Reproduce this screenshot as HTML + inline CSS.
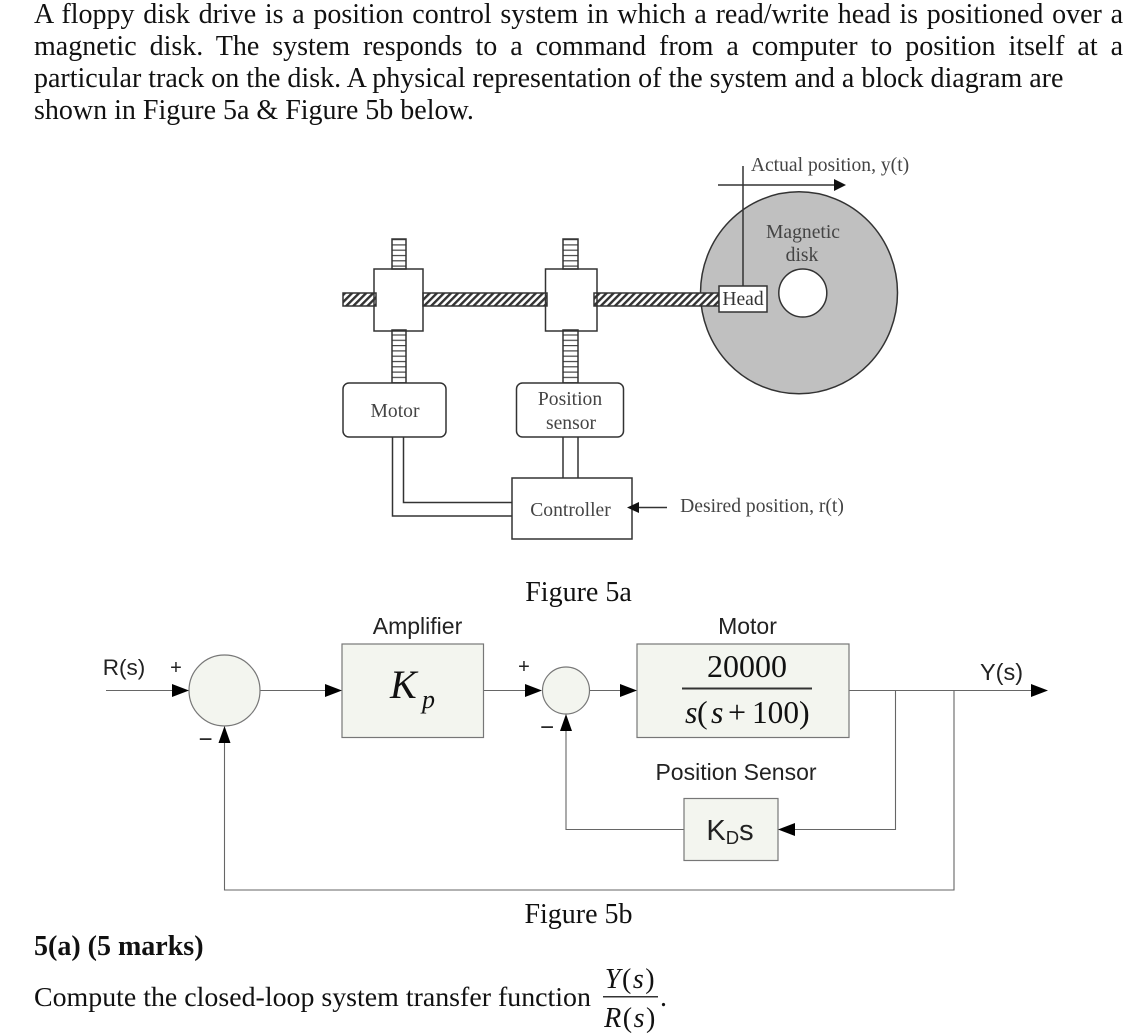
<!DOCTYPE html>
<html><head><meta charset="utf-8"><title>Floppy disk drive</title>
<style>
html,body{margin:0;padding:0;background:#fff;width:1142px;height:1036px;overflow:hidden}
svg{position:absolute;left:0;top:0;filter:blur(.35px)}
.l{position:absolute;left:34px;width:1089px;font:28px/32px "Liberation Serif",serif;color:#111;white-space:nowrap;filter:blur(.3px)}
.j{white-space:normal;text-align:justify;text-align-last:justify}
</style></head><body>
<div class="l j" style="top:-1px">A floppy disk drive is a position control system in which a read/write head is positioned over a</div>
<div class="l j" style="top:31px">magnetic disk. The system responds to a command from a computer to position itself at a</div>
<div class="l" style="top:63px">particular track on the disk. A physical representation of the system and a block diagram are</div>
<div class="l" style="top:95px">shown in Figure 5a &amp; Figure 5b below.</div>
<svg width="1142" height="1036" viewBox="0 0 1142 1036" xmlns="http://www.w3.org/2000/svg">
<defs>
<pattern id="h" width="5" height="5" patternUnits="userSpaceOnUse" patternTransform="rotate(45)"><rect width="5" height="5" fill="#fff"/><rect width="2.4" height="5" fill="#333"/></pattern>
<pattern id="t" width="14" height="5.300" patternUnits="userSpaceOnUse" y="239"><rect width="14" height="5.300" fill="#fff"/><rect width="14" height="1.200" fill="#444"/></pattern>
</defs>
<!-- Figure 5a -->
<g stroke="#333" stroke-width="1.500">
<ellipse cx="799" cy="292.800" rx="98.500" ry="101" fill="#c0c0c0"/>
<circle cx="802.800" cy="293" r="24" fill="#fff"/>
<rect x="343" y="293" width="33" height="13" fill="url(#h)"/>
<rect x="423" y="293" width="124" height="13" fill="url(#h)"/>
<rect x="594" y="293" width="125" height="13" fill="url(#h)"/>
<rect x="392" y="239" width="14" height="30" fill="url(#t)"/>
<rect x="563" y="239" width="15" height="30" fill="url(#t)"/>
<rect x="392" y="330" width="14" height="54" fill="url(#t)"/>
<rect x="563" y="330" width="15" height="54" fill="url(#t)"/>
<rect x="374" y="269" width="49" height="62" fill="none"/>
<rect x="545.500" y="269" width="51.500" height="62" fill="none"/>
<rect x="343" y="383" width="103" height="54" rx="6" fill="#fff"/>
<rect x="516.500" y="383" width="107" height="54" rx="6" fill="#fff"/>
<path d="M392.500 437V516H512M403.500 437V502.500H512M563 437V478M578 437V478" fill="none"/>
<rect x="512" y="478" width="120" height="61" fill="#fff"/>
<rect x="719" y="286" width="48" height="26" fill="#fff"/>
<path d="M743 286V166M718 185H835M636 507.500H667" fill="none"/>
</g>
<path d="M834 179L846 185L834 191Z" fill="#111"/>
<path d="M627 507.500L639 502V513Z" fill="#111"/>
<g font-family="'Liberation Serif',serif" font-size="19.600" fill="#444" text-anchor="middle">
<text x="830" y="171">Actual position, y(t)</text>
<text x="803" y="238">Magnetic</text>
<text x="802" y="261">disk</text>
<text x="743" y="305" fill="#333">Head</text>
<text x="395" y="417">Motor</text>
<text x="570" y="405">Position</text>
<text x="571" y="429">sensor</text>
<text x="570.500" y="516">Controller</text>
<text x="762" y="512">Desired position, r(t)</text>
</g>
<!-- Figure 5b -->
<g stroke="#666" stroke-width="1.100" fill="none">
<path d="M106 690.500H180M260 690.500H330M484 690.500H530M590 690.500H625M849 690.500H1035"/>
<path d="M895.500 690.500V829.500H790M954 690.500V890H224.500V735M684 829.500H566V724"/>
</g>
<g stroke="#777" stroke-width="1.200" fill="#f3f5ef">
<circle cx="224.500" cy="690.500" r="35.500"/>
<circle cx="566" cy="690.500" r="23.500"/>
<rect x="342" y="644" width="141.500" height="93.500"/>
<rect x="637" y="644" width="212" height="93.500"/>
<rect x="684" y="798.500" width="94" height="62"/>
</g>
<g fill="#000">
<path d="M172 684L189 690.500L172 697Z"/>
<path d="M325 684L342 690.500L325 697Z"/>
<path d="M525 684L542 690.500L525 697Z"/>
<path d="M620 684L637 690.500L620 697Z"/>
<path d="M1031 684L1048 690.500L1031 697Z"/>
<path d="M778 829.500L795 823V836Z"/>
<path d="M224.500 726L218.500 743H230.500Z"/>
<path d="M566 714L560 731H572Z"/>
</g>
<g font-family="'Liberation Sans',sans-serif" font-size="23" fill="#222" text-anchor="middle">
<text x="417.500" y="634">Amplifier</text>
<text x="747.500" y="634">Motor</text>
<text x="736" y="780">Position Sensor</text>
<text x="124" y="675" font-size="22.500">R(s)</text>
<text x="1001.500" y="680" font-size="23.500">Y(s)</text>
<text x="176" y="674" font-size="20">+</text>
<text x="524" y="673" font-size="20">+</text>
<text x="205.500" y="747" font-size="24">−</text>
<text x="547" y="735" font-size="24">−</text>
<text x="730" y="840" font-size="29">K<tspan font-size="18.500" dy="4">D</tspan><tspan dy="-4">s</tspan></text>
</g>
<g font-family="'Liberation Serif',serif" fill="#111">
<text x="390" y="698" font-size="40" font-style="italic">K</text>
<text x="422" y="708" font-size="26" font-style="italic">p</text>
<text x="747" y="677" font-size="32" text-anchor="middle">20000</text>
<text x="685" y="723" font-size="32" font-style="italic">s</text>
<text x="697" y="723" font-size="32">(</text>
<text x="711" y="723" font-size="32" font-style="italic">s</text>
<text x="728" y="723" font-size="32">+</text>
<text x="752" y="723" font-size="32" textLength="47" lengthAdjust="spacingAndGlyphs">100</text>
<text x="799" y="723" font-size="32">)</text>
<text x="578.500" y="601" font-size="28" text-anchor="middle">Figure 5a</text>
<text x="578.500" y="923" font-size="28" text-anchor="middle">Figure 5b</text>
<text x="34" y="955" font-size="28" font-weight="bold">5(a) (5 marks)</text>
<text x="34" y="1006" font-size="27.900">Compute the closed-loop system transfer function</text>
<text x="630.500" y="988" font-size="28" letter-spacing="1.500" text-anchor="middle"><tspan font-style="italic">Y</tspan>(<tspan font-style="italic">s</tspan>)</text>
<text x="630.500" y="1027" font-size="28" letter-spacing="1.500" text-anchor="middle"><tspan font-style="italic">R</tspan>(<tspan font-style="italic">s</tspan>)</text>
<text x="660" y="1006" font-size="28">.</text>
</g>
<rect x="682" y="687.500" width="130" height="2" fill="#333"/>
<rect x="603" y="996" width="55" height="1.500" fill="#333"/>
</svg>
</body></html>
